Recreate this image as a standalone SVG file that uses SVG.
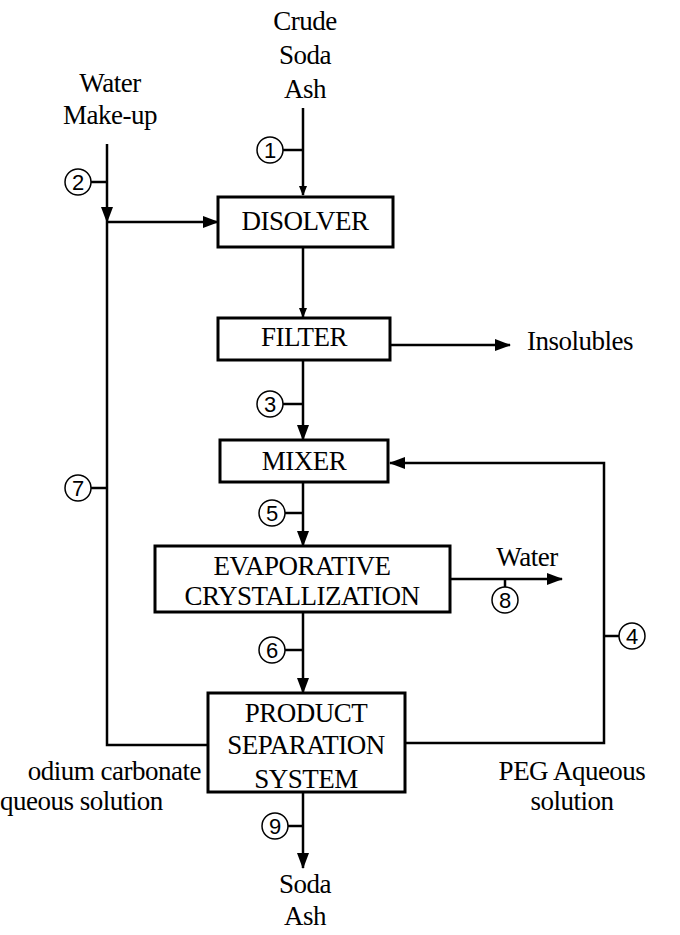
<svg xmlns="http://www.w3.org/2000/svg" width="680" height="935" viewBox="0 0 680 935">
<style>
text{font-family:'Liberation Serif','Times New Roman',Times,'DejaVu Serif',serif;font-size:27px;fill:#000;letter-spacing:-0.5px}
.c{text-anchor:middle}
.n{font-family:'Liberation Sans','DejaVu Sans',sans-serif;font-size:22px;text-anchor:middle;letter-spacing:0}
rect{fill:#fff;stroke:#000;stroke-width:3}
line,polyline{stroke:#000;stroke-width:2.5;fill:none}
circle{fill:#fff;stroke:#000;stroke-width:1.5}
</style>
<defs>
<marker id="a" markerWidth="10" markerHeight="8" refX="9" refY="4" orient="auto" markerUnits="userSpaceOnUse" viewBox="0 0 10 8"><path d="M0,0L10,4L0,8z"/></marker>
<marker id="b" markerWidth="16" markerHeight="12" refX="15" refY="6" orient="auto" markerUnits="userSpaceOnUse" viewBox="0 0 16 12"><path d="M0,0L16,6L0,12z"/></marker>
</defs>
<g id="labels">
<text class="c" x="305" y="30">Crude</text><text class="c" x="305" y="64">Soda</text><text class="c" x="305" y="98">Ash</text>
<text class="c" x="110" y="92">Water</text><text class="c" x="110" y="124">Make-up</text>
<text x="527" y="350">Insolubles</text>
<text class="c" x="527" y="566">Water</text>
<text x="201" y="780" text-anchor="end">odium carbonate</text>
<text x="0" y="810">queous solution</text>
<text class="c" x="572" y="780">PEG Aqueous</text><text class="c" x="572" y="810">solution</text>
<text class="c" x="305" y="893">Soda</text><text class="c" x="305" y="925">Ash</text>
</g>
<g id="connectors">
<line x1="303" y1="108" x2="303" y2="195" marker-end="url(#a)"/>
<line x1="107" y1="144" x2="107" y2="222" marker-end="url(#b)"/>
<polyline points="107,222 107,745 208,745"/>
<line x1="107" y1="222" x2="218" y2="222" marker-end="url(#b)"/>
<line x1="303" y1="247" x2="303" y2="317" marker-end="url(#a)"/>
<line x1="390" y1="345" x2="510" y2="345" marker-end="url(#b)"/>
<line x1="303" y1="360" x2="303" y2="440" marker-end="url(#b)"/>
<polyline points="405,743 604,743 604,463 390,463" marker-end="url(#b)"/>
<line x1="303" y1="482" x2="303" y2="546" marker-end="url(#b)"/>
<line x1="450" y1="579" x2="562" y2="579" marker-end="url(#b)"/>
<line x1="303" y1="612" x2="303" y2="693" marker-end="url(#b)"/>
<line x1="303" y1="792" x2="303" y2="868" marker-end="url(#b)"/>
<line x1="283" y1="150" x2="303" y2="150"/>
<line x1="91" y1="182" x2="107" y2="182"/>
<line x1="283" y1="404" x2="303" y2="404"/>
<line x1="91" y1="488" x2="107" y2="488"/>
<line x1="285" y1="513" x2="303" y2="513"/>
<line x1="505" y1="579" x2="505" y2="587"/>
<line x1="604" y1="636" x2="619" y2="636"/>
<line x1="285" y1="650" x2="303" y2="650"/>
<line x1="288" y1="826" x2="303" y2="826"/>
</g>
<g id="streams">
<circle cx="270" cy="150" r="13"/><text class="n" x="270" y="158">1</text>
<circle cx="78" cy="182" r="13"/><text class="n" x="78" y="190">2</text>
<circle cx="270" cy="404" r="13"/><text class="n" x="270" y="412">3</text>
<circle cx="632" cy="636" r="13"/><text class="n" x="632" y="644">4</text>
<circle cx="272" cy="513" r="13"/><text class="n" x="272" y="521">5</text>
<circle cx="272" cy="650" r="13"/><text class="n" x="272" y="658">6</text>
<circle cx="78" cy="488" r="13"/><text class="n" x="78" y="496">7</text>
<circle cx="505" cy="600" r="13"/><text class="n" x="505" y="608">8</text>
<circle cx="275" cy="826" r="13"/><text class="n" x="275" y="834">9</text>
</g>
<g id="disolver"><rect x="218" y="197" width="175" height="50"/><text class="c" x="305" y="230">DISOLVER</text></g>
<g id="filter"><rect x="218" y="318" width="172" height="42"/><text class="c" x="304" y="346">FILTER</text></g>
<g id="mixer"><rect x="220" y="440" width="168" height="42"/><text class="c" x="304" y="470">MIXER</text></g>
<g id="evap"><rect x="155" y="546" width="295" height="66"/><text class="c" x="302" y="575">EVAPORATIVE</text><text class="c" x="302" y="605">CRYSTALLIZATION</text></g>
<g id="pss"><rect x="208" y="693" width="197" height="99"/><text class="c" x="306" y="722">PRODUCT</text><text class="c" x="306" y="754">SEPARATION</text><text class="c" x="306" y="788">SYSTEM</text></g>
</svg>
